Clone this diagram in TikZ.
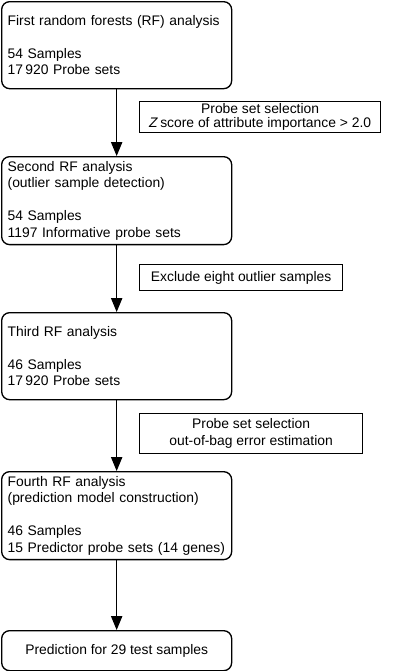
\documentclass[tikz,border=0pt]{standalone}
\usepackage{fontspec}
\setmainfont{Liberation Sans}
\usepackage{tikz}
\usetikzlibrary{positioning, arrows.meta}

\begin{document}
\begin{tikzpicture}[
    x=0.75pt, y=-0.75pt,
    font=\fontsize{10.4pt}{12.4pt}\selectfont,
    rfbox/.style={draw, line width=1pt, rounded corners=6pt, anchor=north west,
        minimum width=172.5pt, minimum height=65.25pt, text width=163.5pt,
        inner xsep=4.5pt, align=left},
    endbox/.style={draw, line width=1pt, rounded corners=6pt, anchor=north west,
        minimum width=172.5pt, minimum height=30pt, align=center},
    selbox/.style={draw, line width=0.9pt, anchor=north west, align=center, inner sep=0pt},
    flow/.style={-{Triangle[length=10.5pt, width=8.5pt]}, line width=0.9pt},
]
\useasboundingbox (0,0) rectangle (409,671);

% analysis steps
\node[rfbox] (rf1) at (1,1)
    {First random forests (RF) analysis\\[12.4pt]54 Samples\\17\,920 Probe sets};
\node[rfbox] (rf2) at (1,156)
    {Second RF analysis\\(outlier sample detection)\\[12.4pt]54 Samples\\1197 Informative probe sets};
\node[rfbox] (rf3) at (1,312)
    {Third RF analysis\\[12.4pt]46 Samples\\17\,920 Probe sets};
\node[rfbox] (rf4) at (1,471)
    {Fourth RF analysis\\(prediction model construction)\\[12.4pt]46 Samples\\15 Predictor probe sets (14 genes)};
\node[endbox] (pred) at (1,630) {Prediction for 29 test samples};

% selection notes
\node[selbox, minimum width=180.75pt, minimum height=23.25pt] (sel1) at (139,101)
    {Probe set selection\\[-1.5pt]\textit{Z}\,score of attribute importance {>} 2.0};
\node[selbox, minimum width=152.25pt, minimum height=19.5pt] (sel2) at (139,264)
    {Exclude eight outlier samples};
\node[selbox, minimum width=167.25pt, minimum height=30pt] (sel3) at (139,413)
    {Probe set selection\\out-of-bag error estimation};

% arrows
\draw[flow] (rf1) -- (rf2);
\draw[flow] (rf2) -- (rf3);
\draw[flow] (rf3) -- (rf4);
\draw[flow] (rf4) -- (pred);

\end{tikzpicture}
\end{document}
